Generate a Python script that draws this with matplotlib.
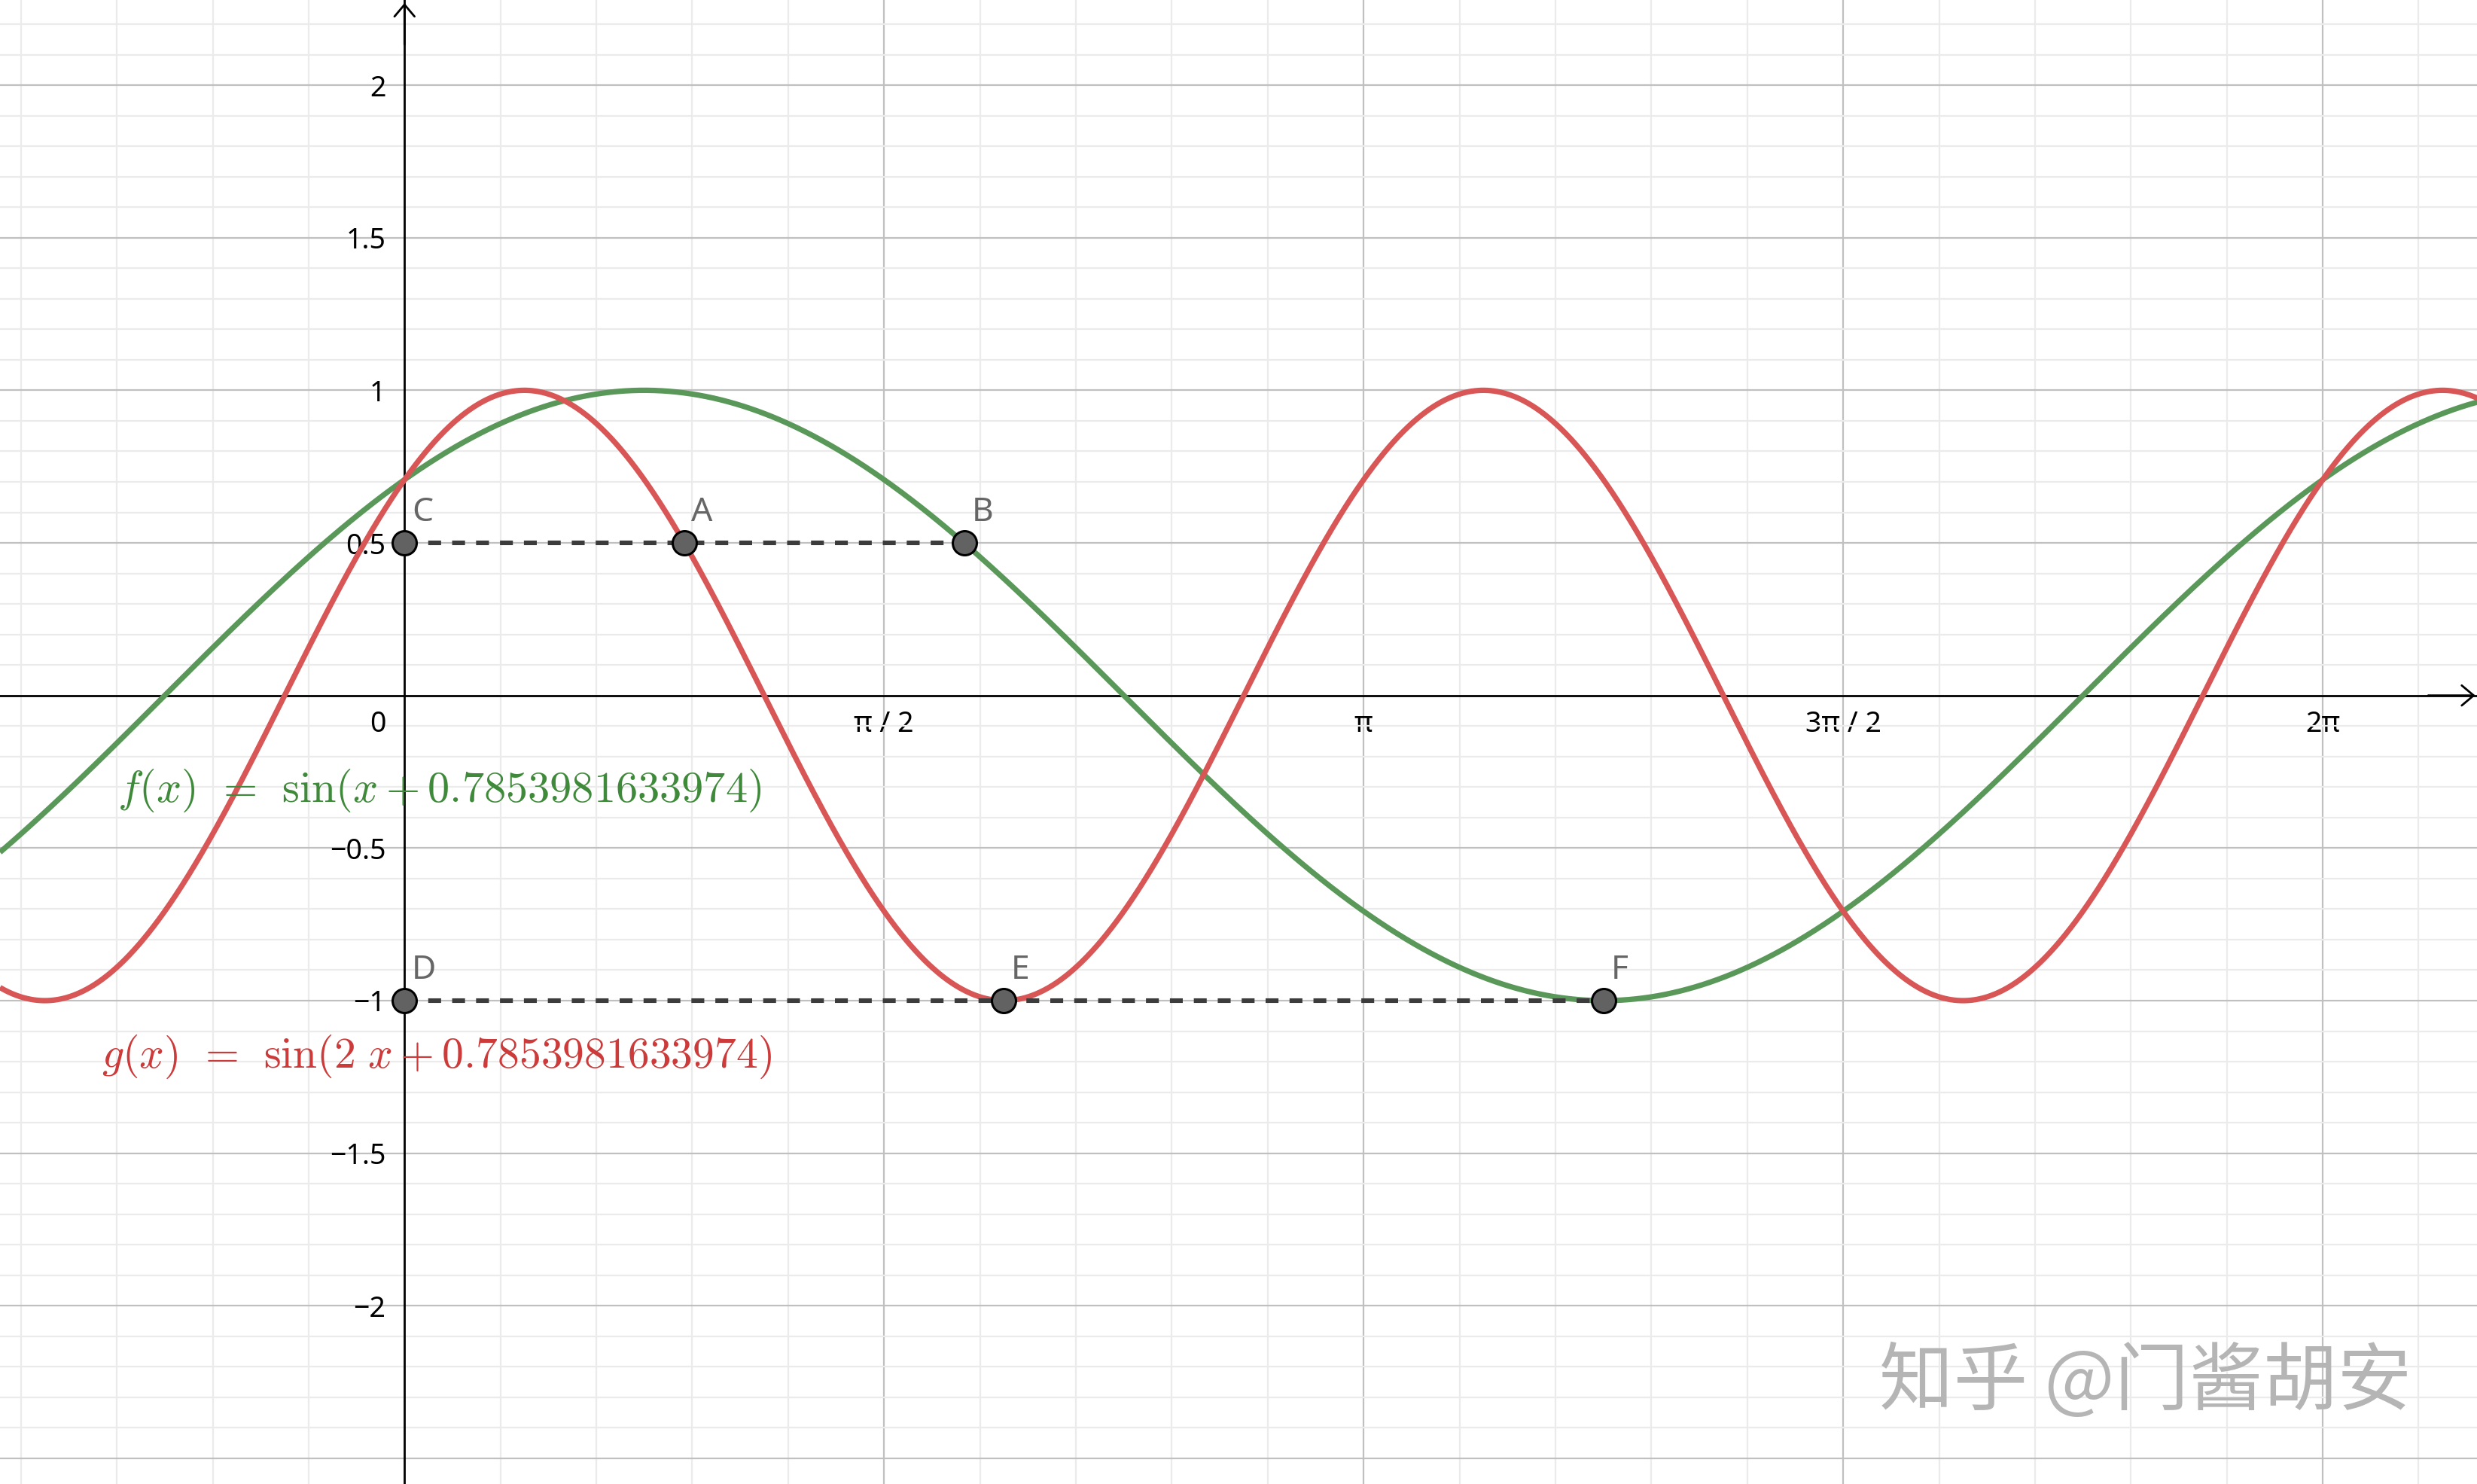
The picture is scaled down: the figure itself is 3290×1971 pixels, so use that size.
import numpy as np
import matplotlib
matplotlib.use("Agg")
import matplotlib.pyplot as plt
from matplotlib.ticker import MultipleLocator, FixedLocator

plt.rcParams['mathtext.fontset'] = 'cm'
plt.rcParams['font.family'] = ['Noto Sans', 'DejaVu Sans']

# ---- data ----
PHASE = 0.7853981633974          # phase constant shown in the formulas
F_FREQ = 1                        # f(x) = sin(1*x + PHASE)
G_FREQ = 2                        # g(x) = sin(2*x + PHASE)

point_names = ['C', 'A', 'B', 'D', 'E', 'F']
point_x = [0.0, 0.916, 1.833, 0.0, 1.963, 3.927]
point_y = [0.5, 0.5, 0.5, -1.0, -1.0, -1.0]

# dashed segments (start point, end point)
segments = [('C', 'B'), ('D', 'F')]

x_tick_vals = [np.pi / 2, np.pi, 3 * np.pi / 2, 2 * np.pi]
x_tick_labels = ['π / 2', 'π', '3π / 2', '2π']
y_tick_vals = [-2.5, -2, -1.5, -1, -0.5, 0.5, 1, 1.5, 2]
y_tick_labels = ['', '−2', '−1.5', '−1', '−0.5', '0.5', '1', '1.5', '2']

f_label = r'$f(x)\;\,=\;\,\sin(x+0.7853981633974)$'
g_label = r'$g(x)\;\,=\;\,\sin(2\ x+0.7853981633974)$'
watermark = '知乎 @门酱胡安'

XLIM = (-1.325, 6.791)
YLIM = (-2.584, 2.279)

GREEN = '#5a985a'
RED = '#d85656'
GREEN_TXT = '#3f8a3a'
RED_TXT = '#cc3a3a'

# ---- figure ----
fig = plt.figure(figsize=(32.91, 19.71), dpi=100)
ax = fig.add_axes([0, 0, 1, 1])
ax.set_xlim(*XLIM)
ax.set_ylim(*YLIM)

# grid
ax.xaxis.set_major_locator(FixedLocator(x_tick_vals))
ax.xaxis.set_minor_locator(MultipleLocator(np.pi / 10))
ax.yaxis.set_major_locator(FixedLocator(y_tick_vals))
ax.yaxis.set_minor_locator(MultipleLocator(0.1))
ax.grid(which='major', color='#c0c0c0', lw=1.6, zorder=0)
ax.grid(which='minor', color='#ebebeb', lw=1.6, zorder=0)
ax.set_axisbelow(True)

ax.set_xticklabels(x_tick_labels)
ax.set_yticklabels(y_tick_labels)
ax.tick_params(which='both', length=0)
ax.tick_params(axis='x', pad=14, labelsize=27)
ax.tick_params(axis='y', pad=18, labelsize=27)
for lab in ax.get_yticklabels() + ax.get_xticklabels():
    lab.set_bbox(dict(facecolor='white', edgecolor='none', pad=1))

# axes lines
for s in ['top', 'right']:
    ax.spines[s].set_visible(False)
ax.spines['left'].set_position(('data', 0))
ax.spines['bottom'].set_position(('data', 0))
for s in ['left', 'bottom']:
    ax.spines[s].set_linewidth(2.0)
    ax.spines[s].set_color('black')
    ax.spines[s].set_zorder(2.5)

arrow_kw = dict(arrowstyle='->,head_length=0.38,head_width=0.32', lw=2.0,
                color='black', mutation_scale=30, shrinkA=0, shrinkB=0)
ax.annotate('', xy=(0.999, 0), xycoords=('axes fraction', 'data'),
            xytext=(0.98, 0), textcoords=('axes fraction', 'data'),
            arrowprops=arrow_kw)
ax.annotate('', xy=(0, 0.998), xycoords=('data', 'axes fraction'),
            xytext=(0, 0.97), textcoords=('data', 'axes fraction'),
            arrowprops=arrow_kw)

# origin label
ax.annotate('0', xy=(0, 0), xytext=(-18, -14), textcoords='offset points',
            ha='right', va='top', fontsize=27)

# curves
xs = np.linspace(XLIM[0], XLIM[1], 3000)
ax.plot(xs, np.sin(F_FREQ * xs + PHASE), color=GREEN, lw=5.2, zorder=3,
        solid_capstyle='butt')
ax.plot(xs, np.sin(G_FREQ * xs + PHASE), color=RED, lw=5.2, zorder=3,
        solid_capstyle='butt')

# dashed segments
idx = {n: i for i, n in enumerate(point_names)}
for a, b in segments:
    ax.plot([point_x[idx[a]], point_x[idx[b]]], [point_y[idx[a]], point_y[idx[b]]],
            color='#3c3c3c', lw=4.4, ls=(0, (2.8, 2.4)), dash_capstyle='butt',
            zorder=4)

# points
ax.plot(point_x, point_y, 'o', ms=23, mfc='#626262', mec='black', mew=2.2,
        ls='none', zorder=5)
for n, px, py in zip(point_names, point_x, point_y):
    ax.annotate(n, xy=(px, py), xytext=(7, 21), textcoords='offset points',
                ha='left', va='baseline', fontsize=32, color='#666666', zorder=6)

# formula labels
ax.text(0.0475, 0.4595, f_label, transform=ax.transAxes, fontsize=42,
        color=GREEN_TXT, ha='left', va='baseline', zorder=6)
ax.text(0.0410, 0.2805, g_label, transform=ax.transAxes, fontsize=41.5,
        color=RED_TXT, ha='left', va='baseline', zorder=6)

# watermark
fig.text(0.7585, 0.068, watermark, fontsize=71, color='#b5b5b5',
         family=['Noto Sans CJK SC', 'DejaVu Sans'], fontweight='medium',
         ha='left', va='center', zorder=10)

fig.savefig('out.png', dpi=100)
